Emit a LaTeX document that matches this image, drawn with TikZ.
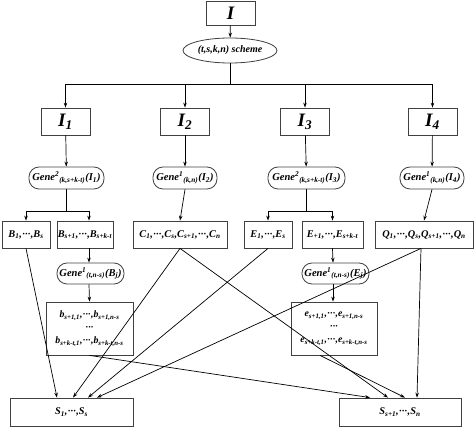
\documentclass[tikz,border=0pt]{standalone}
\usepackage{fontspec}
\setmainfont{Liberation Serif}
\usetikzlibrary{shapes,arrows.meta}

\newcommand{\dts}{\kern0.4pt·\kern0.2pt·\kern0.2pt·\kern0.4pt}
\newcommand{\sbs}[1]{\textsubscript{#1}}
\newcommand{\sps}[1]{\textsuperscript{#1}}

\tikzset{
  box/.style={draw=black!75,line width=0.8pt,inner sep=0pt,minimum height=27pt,
    font=\fontsize{10.3}{13}\selectfont\bfseries\itshape},
  bigbox/.style={box,font=\fontsize{19}{22}\selectfont\bfseries\itshape},
  genebox/.style={draw=black!75,line width=0.8pt,rounded corners=10pt,inner sep=0pt,
    minimum height=22pt,font=\fontsize{10.5}{12}\selectfont\bfseries\itshape},
  arr/.style={-{Stealth[length=5pt,width=3.5pt]},line width=0.7pt},
}

\begin{document}
\begin{tikzpicture}[x=1pt,y=-1pt]
\useasboundingbox (0,0) rectangle (474,427);
% top of the scheme
\node[bigbox,minimum width=49pt,minimum height=24pt] (I) at (230.5,13) {I};
\node[ellipse,draw=black!75,line width=0.8pt,inner sep=0pt,minimum width=94pt,minimum height=25pt,
  font=\fontsize{10}{12}\selectfont\bfseries\itshape] (sch) at (230,50.5) {(t,s,k,n) scheme};
\coordinate (split) at (230,84);

% the four parts
\node[bigbox,minimum width=49pt] (I1) at (65.5,121.5) {I\sbs{1}};
\node[bigbox,minimum width=49pt] (I2) at (185,121.5) {I\sbs{2}};
\node[bigbox,minimum width=49pt] (I3) at (305,121.5) {I\sbs{3}};
\node[bigbox,minimum width=49pt] (I4) at (432.5,121.5) {I\sbs{4}};

\node[genebox,minimum width=75pt] (g1) at (66.5,178) {Gene\sps{2}\sbs{(k,s+k-t)}(I\sbs{1})};
\node[genebox,minimum width=64pt] (g2) at (185,178) {Gene\sps{1}\sbs{(k,n)}(I\sbs{2})};
\node[genebox,minimum width=77pt] (g3) at (306.5,178) {Gene\sps{2}\sbs{(k,s+k-t)}(I\sbs{3})};
\node[genebox,minimum width=64pt] (g4) at (432,178) {Gene\sps{1}\sbs{(k,n)}(I\sbs{4})};

% shares
\node[box,minimum width=48pt] (B1) at (26,234.5) {B\sbs{1},\dts,B\sbs{s}};
\node[box,minimum width=56pt] (Bs) at (85,234.5) {B\sbs{s+1},\dts,B\sbs{s+k-t}};
\node[box,minimum width=94pt] (C) at (180,234.5) {C\sbs{1},\dts,C\sbs{s},C\sbs{s+1},\dts,C\sbs{n}};
\node[box,minimum width=48pt] (E1) at (268,234.5) {E\sbs{1},\dts,E\sbs{s}};
\node[box,minimum width=61pt] (Es) at (332.5,234.5) {E\sbs{+1},\dts,E\sbs{s+k-t}};
\node[box,minimum width=98pt] (Q) at (424,234.5) {Q\sbs{1},\dts,Q\sbs{s},Q\sbs{s+1},\dts,Q\sbs{n}};

\node[genebox,minimum width=67pt,minimum height=21pt] (g5) at (90.5,273.5) {Gene\sps{1}\sbs{(t,n-s)}(B\sbs{j})};
\node[genebox,minimum width=67pt,minimum height=21pt] (g6) at (335.5,273.5) {Gene\sps{1}\sbs{(t,n-s)}(E\sbs{j})};

\node[box,minimum width=87pt,minimum height=53pt,align=center,
  font=\fontsize{9.8}{13}\selectfont\bfseries\itshape] (b) at (89.5,328.5)
  {b\sbs{s+1,1},\dts,b\sbs{s+1,n-s}\\\dts\\b\sbs{s+k-t,1},\dts,b\sbs{s+k-t,n-s}};
\node[box,minimum width=86pt,minimum height=53pt,align=center,
  font=\fontsize{9.8}{13}\selectfont\bfseries\itshape] (e) at (334,328.5)
  {e\sbs{s+1,1},\dts,e\sbs{s+1,n-s}\\\dts\\e\sbs{s+k-t,1},\dts,e\sbs{s+k-t,n-s}};

% final shares
\node[box,minimum width=123pt,minimum height=28pt] (S1) at (71.5,412) {S\sbs{1},\dts,S\sbs{s}};
\node[box,minimum width=122pt,minimum height=28pt] (Sn) at (400,412) {S\sbs{s+1},\dts,S\sbs{n}};

% connectors
\draw[arr] (I) -- (sch);
\draw[line width=0.7pt] (sch) -- (split);
\foreach \n in {I1,I2,I3,I4} \draw[arr] (split) -| (\n.north);
\foreach \n/\g in {I1/g1,I2/g2,I3/g3,I4/g4} \draw[arr] (\n) -- (\g);

\draw[line width=0.7pt] (g1.south) -- ++(0,22) coordinate (g1s);
\draw[arr] (g1s) -| (B1.north);
\draw[arr] (g1s) -| ([xshift=4pt]Bs.north);
\draw[line width=0.7pt] (g3.south) -- ++(0,22) coordinate (g3s);
\draw[arr] (g3s) -| (E1.north);
\draw[arr] (g3s) -| (Es.north);
\draw[arr] (g2.south) -- (C.north);
\draw[arr] (g4.south) -- (Q.north);

\draw[arr] ([xshift=4pt]Bs.south) -- ([xshift=-1.5pt]g5.north);
\draw[arr] ([xshift=-1.5pt]g5.south) -- (b.north);
\draw[arr] (Es.south) -- ([xshift=-2.5pt]g6.north);
\draw[arr] ([xshift=-2.5pt]g6.south) -- ([xshift=-1pt]e.north);

\draw[arr] (B1.south) -- ([xshift=-14.5pt]S1.north);
\draw[arr] (C.south) -- ([xshift=1.5pt]S1.north);
\draw[arr] (E1.south) -- ([xshift=16.5pt]S1.north);
\draw[arr] ([xshift=-3pt]Q.south) -- ([xshift=25.5pt]S1.north);

\draw[arr] (b.south) -- ([xshift=-30pt]Sn.north);
\draw[arr] (C.south) -- ([xshift=-12pt]Sn.north);
\draw[arr] ([xshift=-14pt]e.south) -- ([xshift=5pt]Sn.north);
\draw[arr] ([xshift=-3pt]Q.south) -- ([xshift=17pt]Sn.north);
\end{tikzpicture}
\end{document}
